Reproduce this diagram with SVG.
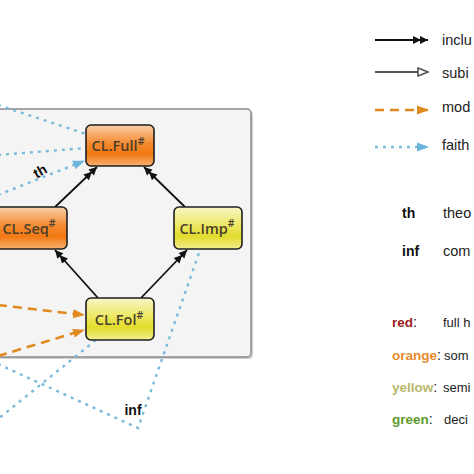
<svg xmlns="http://www.w3.org/2000/svg" width="474" height="474" viewBox="0 0 474 474">
<style>
.node rect{stroke:#1e1e1e;stroke-width:1.6}
.nl{font-family:"Open Sans","Liberation Sans",sans-serif;font-weight:600;font-size:14.5px;fill:#4a3f2c;text-anchor:middle}
.sup{font-size:10.5px}
.inc{stroke:#111;stroke-width:1.8;fill:none}
.blue{stroke:#7bb9dc;stroke-width:2.4;stroke-dasharray:3 5;fill:none}
.orng{stroke:#e0891f;stroke-width:2.6;stroke-dasharray:9 6;fill:none}
.lg{font-family:"Liberation Sans",Arial,sans-serif;font-size:14.5px;fill:#222}
.ls{font-family:"Liberation Sans",Arial,sans-serif;font-size:13px;fill:#222}
.lb{font-family:"Liberation Sans",Arial,sans-serif;font-size:14px;font-weight:bold}
.lc{font-family:"Liberation Sans",Arial,sans-serif;font-size:13.5px;font-weight:bold}
</style>
<defs>
<linearGradient id="gO" x1="0" y1="0" x2="0" y2="1">
<stop offset="0" stop-color="#fbd0a8"/>
<stop offset="0.45" stop-color="#f48a30"/>
<stop offset="0.7" stop-color="#f27812"/>
<stop offset="1" stop-color="#f8b070"/>
</linearGradient>
<linearGradient id="gY" x1="0" y1="0" x2="0" y2="1">
<stop offset="0" stop-color="#f7f6c8"/>
<stop offset="0.45" stop-color="#ece860"/>
<stop offset="0.7" stop-color="#e2dc2c"/>
<stop offset="1" stop-color="#f1ee90"/>
</linearGradient>
<marker id="dbl" viewBox="0 0 16 10" refX="15" refY="5" markerWidth="16" markerHeight="10" markerUnits="userSpaceOnUse" orient="auto">
<path d="M0,1 L8,5 L0,9 Z M7,1 L15,5 L7,9 Z" fill="#111"/>
</marker>
<marker id="opn" viewBox="0 0 12 10" refX="11" refY="5" markerWidth="12" markerHeight="10" markerUnits="userSpaceOnUse" orient="auto">
<path d="M1,1 L11,5 L1,9 Z" fill="#fff" stroke="#555" stroke-width="1.6"/>
</marker>
<marker id="aO" viewBox="0 0 12 10" refX="11" refY="5" markerWidth="12" markerHeight="10" markerUnits="userSpaceOnUse" orient="auto">
<path d="M0,0.5 L12,5 L0,9.5 Z" fill="#e0891f"/>
</marker>
<marker id="aB" viewBox="0 0 12 10" refX="11" refY="5" markerWidth="12" markerHeight="10" markerUnits="userSpaceOnUse" orient="auto">
<path d="M0,0.5 L12,5 L0,9.5 Z" fill="#6cb3de"/>
</marker>
</defs>
<rect width="474" height="474" fill="#fff"/>
<!-- panel -->
<rect x="-4" y="111" width="257" height="248" rx="4" fill="#d2d2d2"/>
<rect x="-6" y="109" width="257" height="248" rx="4" fill="#f4f4f4" stroke="#8a8a8a" stroke-width="1.5"/>
<g id="connectors">
<line class="inc" x1="55" y1="207" x2="97" y2="167" marker-end="url(#dbl)"/>
<line class="inc" x1="185" y1="207" x2="144" y2="167" marker-end="url(#dbl)"/>
<line class="inc" x1="98" y1="298" x2="55" y2="250" marker-end="url(#dbl)"/>
<line class="inc" x1="141" y1="298" x2="187" y2="250" marker-end="url(#dbl)"/>
<line class="blue" x1="-2" y1="105" x2="86" y2="134"/>
<line class="blue" x1="-2" y1="155" x2="86" y2="148"/>
<line class="blue" x1="-2" y1="195" x2="84" y2="161" marker-end="url(#aB)"/>
<text x="40" y="176" class="lb" fill="#111" transform="rotate(-30 40 171)" text-anchor="middle">th</text>
<line class="orng" x1="-2" y1="305" x2="84" y2="315" marker-end="url(#aO)"/>
<line class="orng" x1="-2" y1="356" x2="84" y2="330" marker-end="url(#aO)"/>
<line class="blue" x1="96" y1="340" x2="-2" y2="419"/>
<polyline class="blue" points="-2,364 138,428 200,250"/>
<text x="133" y="415" class="lb" fill="#111" text-anchor="middle">inf</text>
</g>
<g id="CL.Full" class="node">
<rect x="86" y="125" width="68" height="41" rx="5" fill="url(#gO)"/>
<text x="118" y="151" class="nl">CL.Full<tspan class="sup" dy="-6">#</tspan></text>
</g>
<g id="CL.Seq" class="node">
<rect x="-6" y="207" width="73" height="42" rx="5" fill="url(#gO)"/>
<text x="29" y="234" class="nl">CL.Seq<tspan class="sup" dy="-7">#</tspan></text>
</g>
<g id="CL.Imp" class="node">
<rect x="174" y="207" width="68" height="42" rx="5" fill="url(#gY)"/>
<text x="207" y="234" class="nl">CL.Imp<tspan class="sup" dy="-7">#</tspan></text>
</g>
<g id="CL.Fol" class="node">
<rect x="86" y="298" width="68" height="42" rx="5" fill="url(#gY)"/>
<text x="119" y="325" class="nl">CL.Fol<tspan class="sup" dy="-6">#</tspan></text>
</g>
<g id="legend">
<line x1="375" y1="40" x2="428" y2="40" class="inc" marker-end="url(#dbl)"/>
<text x="442" y="45" class="lg">inclu</text>
<line x1="375" y1="72" x2="428" y2="72" stroke="#555" stroke-width="1.8" marker-end="url(#opn)"/>
<text x="442" y="78" class="lg">subi</text>
<line x1="375" y1="110" x2="428" y2="110" class="orng" stroke-dasharray="9 7" marker-end="url(#aO)"/>
<text x="442" y="112" class="lg">mod</text>
<line x1="375" y1="147" x2="428" y2="147" class="blue" stroke-dasharray="3 5" marker-end="url(#aB)"/>
<text x="442" y="150" class="lg">faith</text>
<text x="402" y="218" class="lb" fill="#111">th</text>
<text x="443" y="218" class="lg">theo</text>
<text x="402" y="256" class="lb" fill="#111">inf</text>
<text x="443" y="256" class="lg">com</text>
<text x="392" y="327" class="lc" fill="#9b1f1f">red<tspan class="lg" font-weight="normal" font-size="13.5px">:</tspan></text>
<text x="443" y="327" class="ls">full h</text>
<text x="392" y="360" class="lc" fill="#e8892c">orange<tspan class="lg" font-weight="normal" font-size="13.5px">:</tspan></text>
<text x="444" y="360" class="ls">som</text>
<text x="392" y="392" class="lc" fill="#b8b86a">yellow<tspan class="lg" font-weight="normal" font-size="13.5px">:</tspan></text>
<text x="443" y="392" class="ls">semi</text>
<text x="392" y="424" class="lc" fill="#5c9a2c">green<tspan class="lg" font-weight="normal" font-size="13.5px">:</tspan></text>
<text x="444" y="424" class="ls">deci</text>
</g>
</svg>
